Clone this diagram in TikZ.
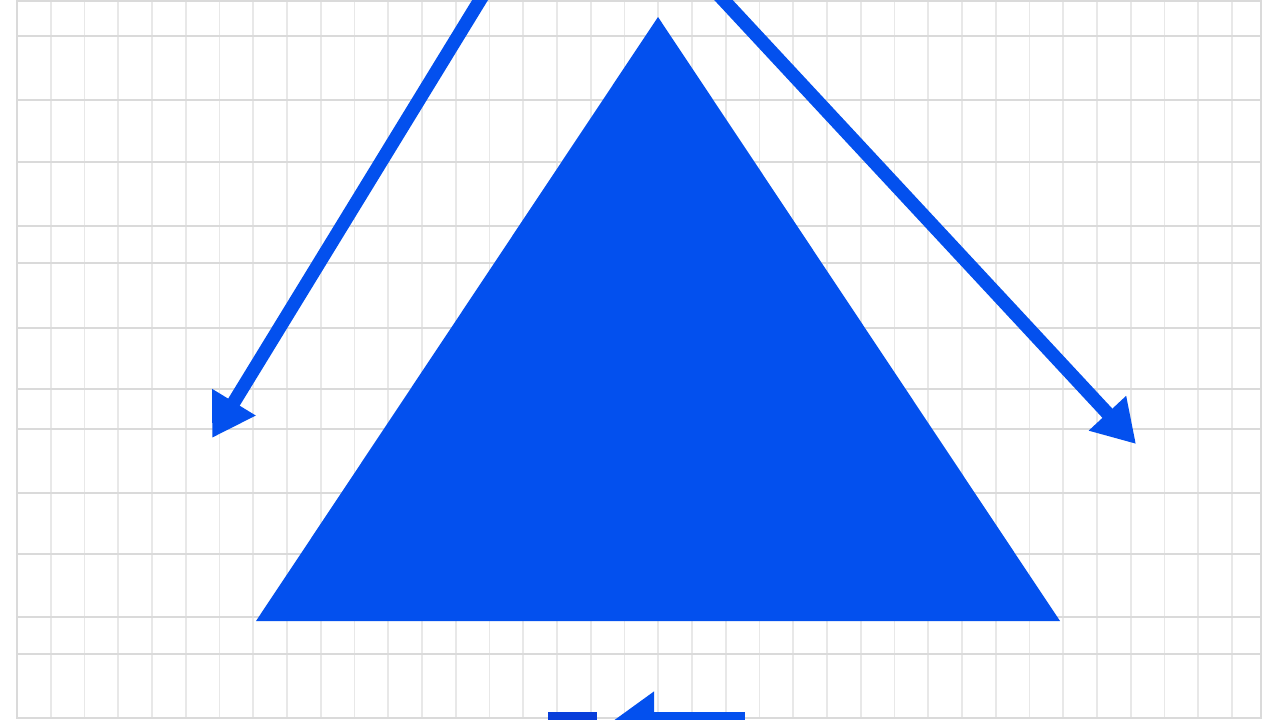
\documentclass[tikz,border=0pt]{standalone}
\usetikzlibrary{arrows.meta}
\definecolor{tri}{RGB}{3,80,238}
\definecolor{darkblue}{RGB}{8,62,218}
\definecolor{gridh}{RGB}{218,218,218}
\definecolor{gridv}{RGB}{232,232,232}
\tikzset{
  gridvline/.style={draw=gridv, line width=1.6pt},
  gridhline/.style={draw=gridh, line width=1.8pt},
  bluearrow/.style={draw=tri, line width=13.5pt, -{Triangle[length=42pt,width=48pt]}},
  bigarrow/.style={draw=tri, line width=22pt, -{Triangle[length=44pt,width=60pt]}}
}
\begin{document}
\begin{tikzpicture}[x=1pt,y=-1pt]
\useasboundingbox (0,0) rectangle (1280,720);
\fill[white] (0,0) rectangle (1280,720);
\begin{scope}
\clip (0,0) rectangle (1280,720);
% grid
\foreach \k in {1,...,36} \draw[gridvline] ({17+\k*33.75},0) -- ({17+\k*33.75},718);
\foreach \y in {36,100,162,226,263,328,389,429,493,554,617,654}
  \draw[gridhline] (17,\y) -- (1261,\y);
\draw[gridhline, line width=2pt] (17,1) rectangle (1261,718);
% triangle
\coordinate (apex) at (658,17);
\coordinate (bl) at (256,621);
\coordinate (br) at (1060,621);
\fill[tri] (apex) -- (bl) -- (br) -- cycle;
% arrows
\coordinate (ls) at (485,-8);
\coordinate (lt) at (212,438);
\draw[bluearrow] (ls) -- (lt);
\coordinate (rs) at (716,-8);
\coordinate (rt) at (1136,444);
\draw[bluearrow] (rs) -- (rt);
% bottom arrow
\coordinate (bs) at (745,723);
\coordinate (bt) at (610,723);
\draw[bigarrow] (bs) -- (bt);
\fill[darkblue] (548,712) rectangle (597,725);
\end{scope}
\end{tikzpicture}
\end{document}
